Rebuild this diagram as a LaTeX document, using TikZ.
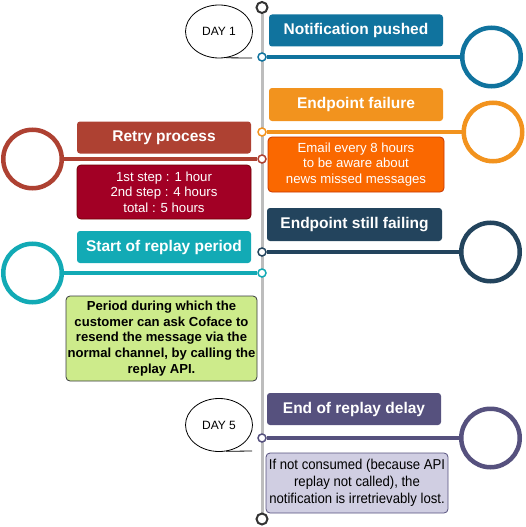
\documentclass[tikz,border=0pt]{standalone}
\usepackage{fontspec}
\setmainfont{Liberation Sans}
\newfontfamily\narrowfont[FakeStretch=0.92]{Liberation Sans}
\usetikzlibrary{shapes.geometric,backgrounds}
\definecolor{cblue}{HTML}{10739E}
\definecolor{corange}{HTML}{F2931E}
\definecolor{cbrick}{HTML}{AE4132}
\definecolor{cnavy}{HTML}{23445D}
\definecolor{cteal}{HTML}{12AAB5}
\definecolor{cpurple}{HTML}{56517E}
\definecolor{cemail}{HTML}{FA6800}
\definecolor{cemaild}{HTML}{C73500}
\definecolor{cretry}{HTML}{A20025}
\definecolor{cretryd}{HTML}{6F0000}
\definecolor{cgreen}{HTML}{CDEB8B}
\definecolor{cgreend}{HTML}{36393D}
\definecolor{clav}{HTML}{D0CEE2}
\definecolor{cgray}{HTML}{BDBDBD}
\definecolor{cdark}{HTML}{333333}
\begin{document}
\begin{tikzpicture}[x=1pt,y=-1pt,
  hdr/.style={rounded corners=3pt, inner sep=0pt, text=white,
    font=\fontsize{15.5}{18}\selectfont\bfseries,
    minimum width=174pt, minimum height=32pt},
  body/.style={rounded corners=4pt, inner sep=0pt, align=center, draw, line width=0.8pt,
    font=\fontsize{13.2}{15.5}\selectfont},
  big/.style={circle, draw, line width=4.5pt, fill=white, minimum size=58.5pt, inner sep=0pt},
  dot/.style={circle, draw, line width=1.5pt, fill=white, minimum size=8pt, inner sep=0pt},
  enddot/.style={circle, draw=cdark, line width=2pt, fill=white, minimum size=11pt, inner sep=0pt},
  conn/.style={line width=3.5pt},
  day/.style={ellipse, draw, line width=0.8pt, fill=white, minimum width=67pt, minimum height=53pt,
    inner sep=0pt, font=\fontsize{12}{14}\selectfont}
]
\useasboundingbox (0,0) rectangle (525,527);

% timeline
\node[enddot] (top) at (262,7.5) {};
\node[enddot] (bot) at (262,519) {};

% day ellipses
\node[day] (d1) at (219,31.5) {DAY 1};
\coordinate (d1t) at (252,58);
\draw[line width=0.8pt] (d1.-75) -- (d1t);
\node[day] (d5) at (219,425) {DAY 5};
\coordinate (d5t) at (252,451);
\draw[line width=0.8pt] (d5.-75) -- (d5t);

% headers
\node[hdr, fill=cblue] (np) at (356,30.5) {Notification pushed};
\node[hdr, fill=corange, minimum height=33pt] (ef) at (356,104.5) {Endpoint failure};
\node[hdr, fill=cbrick] (rp) at (164,137.5) {Retry process};
\node[hdr, fill=cnavy, minimum height=33pt, minimum width=175pt] (esf) at (354.5,224.5) {Endpoint still failing};
\node[hdr, fill=cteal] (srp) at (164,247) {Start of replay period};
\node[hdr, fill=cpurple] (erd) at (354,409) {End of replay delay};

% bodies
\node[body, fill=cemail, draw=cemaild, text=white, minimum width=176pt, minimum height=55pt] (em) at (356,164.5)
  {Email every 8 hours\\to be aware about\\news missed messages};
\node[body, fill=cretry, draw=cretryd, text=white, minimum width=174pt, minimum height=54pt] (rd) at (164,192)
  {1st step : 1 hour\\2nd step : 4 hours\\total : 5 hours};
\node[body, fill=cgreen, draw=cgreend, minimum width=191pt, minimum height=85pt,
  font=\fontsize{13.1}{15.8}\selectfont\bfseries] (gr) at (161.5,338.5)
  {Period during which the\\customer can ask Coface to\\resend the message via the\\normal channel, by calling the\\replay API.};
\node[body, fill=clav, draw=cpurple, minimum width=182pt, minimum height=60pt,
  font=\narrowfont\fontsize{14.3}{17}\selectfont] (lv) at (357,483)
  {If not consumed (because API\\replay not called), the\\notification is irretrievably lost.};

% dots
\node[dot, draw=cblue] (s1) at (262,57) {};
\node[dot, draw=corange] (s2) at (262,132) {};
\node[dot, draw=cbrick] (s3) at (262,159) {};
\node[dot, draw=cnavy] (s4) at (262,252) {};
\node[dot, draw=cteal] (s5) at (262,273) {};
\node[dot, draw=cpurple] (s6) at (262,438) {};

% big circles
\node[big, draw=cblue] (c1) at (491.5,57) {};
\node[big, draw=corange] (c2) at (493,132) {};
\node[big, draw=cbrick] (c3) at (32.5,159) {};
\node[big, draw=cnavy] (c4) at (490.5,252) {};
\node[big, draw=cteal] (c5) at (32.5,273) {};
\node[big, draw=cpurple] (c6) at (490.5,438) {};

\begin{scope}[on background layer]
  \draw[cgray, line width=3pt] (top) -- (bot);
  \draw[conn, cblue] (s1) -- (c1);
  \draw[conn, corange] (s2) -- (c2);
  \draw[conn, cbrick] (s3) -- (c3);
  \draw[conn, cnavy] (s4) -- (c4);
  \draw[conn, cteal] (s5) -- (c5);
  \draw[conn, cpurple] (s6) -- (c6);
\end{scope}
\end{tikzpicture}
\end{document}
